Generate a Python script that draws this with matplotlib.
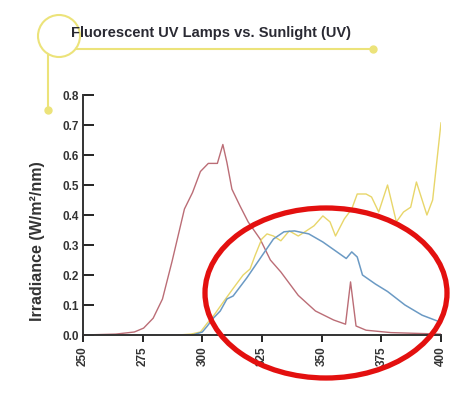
import matplotlib
matplotlib.use("Agg")
import matplotlib.pyplot as plt
from matplotlib.patches import Circle, Ellipse

plt.rcParams['font.family'] = ['Liberation Sans', 'DejaVu Sans']

# fluorescent UVB lamp (red)
red_nm = [250, 263.7, 271.5, 275.4, 279.4, 283.3, 287.3, 292.5, 295.9, 299.2, 302.5, 306.3,
          308.6, 310.3, 312.4, 315.8, 319.2, 324.2, 328.5, 332.9, 340.2, 347.4, 355.0, 360.0,
          362.1, 364.4, 368.6, 379.0, 400]
red_val = [0.0, 0.003, 0.01, 0.023, 0.056, 0.12, 0.245, 0.42, 0.475, 0.545, 0.572, 0.572,
           0.635, 0.575, 0.486, 0.43, 0.377, 0.32, 0.25, 0.21, 0.132, 0.08, 0.05, 0.036,
           0.177, 0.03, 0.016, 0.008, 0.003]

# fluorescent UVA lamp (blue)
blue_nm = [296, 300, 302.0, 304.6, 307.5, 310.3, 312.9, 318.6, 324.2, 329.8, 334.2, 338.6,
           344.6, 350.5, 356.4, 360.3, 362.6, 364.9, 367.1, 372.5, 377.6, 384.9, 392.1, 398.7, 400]
blue_val = [0.0, 0.01, 0.029, 0.056, 0.08, 0.12, 0.13, 0.19, 0.255, 0.32, 0.344, 0.347,
            0.337, 0.31, 0.277, 0.255, 0.277, 0.26, 0.2, 0.17, 0.145, 0.1, 0.066, 0.046, 0.043]

# sunlight (yellow)
sun_nm = [290, 295.2, 299.2, 302.1, 304.6, 308.8, 312.9, 317.1, 320.0, 322.1, 324.9, 327.1,
          329.8, 332.9, 336.4, 340.2, 343.0, 346.8, 350.5, 353.5, 355.8, 359.5, 362.6, 364.9,
          368.6, 370.9, 373.9, 377.6, 381.3, 384.3, 387.3, 389.7, 394.1, 396.5, 400]
sun_val = [0.0, 0.003, 0.01, 0.04, 0.063, 0.11, 0.155, 0.2, 0.22, 0.265, 0.32, 0.337,
           0.33, 0.314, 0.347, 0.33, 0.344, 0.364, 0.397, 0.377, 0.33, 0.387, 0.42, 0.47,
           0.47, 0.46, 0.41, 0.50, 0.377, 0.41, 0.426, 0.51, 0.40, 0.45, 0.707]

x_ticks = [250, 275, 300, 325, 350, 375, 400]
y_ticks = [0.0, 0.1, 0.2, 0.3, 0.4, 0.5, 0.6, 0.7, 0.8]

W, H = 474, 405
fig = plt.figure(figsize=(W / 100, H / 100), dpi=100)
ax = fig.add_axes([83 / W, 1 - 335 / H, (441 - 83) / W, (335 - 95) / H])

ax.plot(red_nm, red_val, color='#bb6d76', lw=1.0)
ax.plot(sun_nm, sun_val, color='#e8d66a', lw=1.0)
ax.plot(blue_nm, blue_val, color='#6b9ac4', lw=1.1)

ax.set_xlim(250, 400)
ax.set_ylim(0, 0.8)
ax.set_xticks(x_ticks)
ax.set_xticklabels([str(t) for t in x_ticks], rotation=90, fontsize=8.5, fontweight='bold', color='#333333')
ax.set_yticks(y_ticks)
ax.set_yticklabels(['%.1f' % t for t in y_ticks], fontsize=8.5, fontweight='bold', color='#333333')
ax.tick_params(axis='y', direction='in', length=8, width=1.2, pad=3)
ax.tick_params(axis='x', direction='out', length=5, width=1.2, pad=3)
for s in ['top', 'right']:
    ax.spines[s].set_visible(False)
for s in ['left', 'bottom']:
    ax.spines[s].set_linewidth(1.4)
    ax.spines[s].set_color('#333333')
ax.set_ylabel('Irradiance (W/m²/nm)', fontsize=11.5, fontweight='bold', color='#333333')
ax.yaxis.set_label_coords(-0.106, 0.39)

# decoration overlay in pixel coordinates
ov = fig.add_axes([0, 0, 1, 1], facecolor='none')
ov.set_xlim(0, W)
ov.set_ylim(H, 0)
ov.axis('off')
deco = '#ece37a'
ov.add_patch(Circle((59, 36), 21, fill=False, ec=deco, lw=1.5))
ov.plot([76, 373], [49, 49], color=deco, lw=1.5)
ov.plot([373], [49], 'o', color=deco, ms=5)
ov.plot([48, 48], [54, 110], color=deco, lw=1.5)
ov.plot([48], [110], 'o', color=deco, ms=5)
ov.text(71, 37, 'Fluorescent UV Lamps vs. Sunlight (UV)', fontsize=10.5, fontweight='bold',
        color='#2a2a33', ha='left', va='baseline')
ov.add_patch(Ellipse((326, 293), 242, 170, fill=False, ec='#e3100f', lw=3.8))

fig.savefig('out.png', dpi=100)
